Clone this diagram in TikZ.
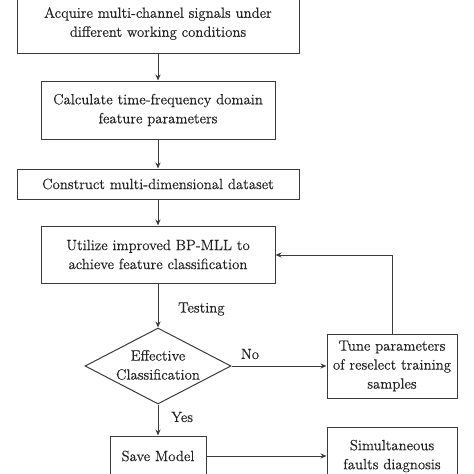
\documentclass[tikz,border=0pt]{standalone}
\usepackage{fontspec}
\setmainfont{lmroman12-regular.otf}[FakeBold=0.3]
\usetikzlibrary{shapes.geometric,arrows.meta}
\definecolor{ink}{HTML}{222222}
\definecolor{edge}{HTML}{3A3A3A}
\tikzset{
  box/.style={draw=edge, line width=1pt, rectangle, inner sep=0pt, align=center, text=ink,
    font=\fontsize{14.8}{19}\selectfont},
  dec/.style={draw=edge, line width=1pt, shape=diamond, inner sep=0pt, minimum width=146pt, minimum height=76pt},
  txt/.style={text=ink, align=center, inner sep=0pt, font=\fontsize{14.8}{19}\selectfont},
  conn/.style={draw=edge, line width=1pt, -{Stealth[length=6pt,width=5pt]}},
}
\begin{document}
\begin{tikzpicture}[x=1pt,y=1pt]
\useasboundingbox (0,0) rectangle (474,-474);
\clip (0,0) rectangle (474,-474);
\node[box, minimum width=282pt, minimum height=59pt] (b1) at (158,-23.5) {Acquire multi-channel signals under\\different working conditions};
\node[box, minimum width=234pt, minimum height=58pt] (b2) at (158,-110) {Calculate time-frequency domain\\feature parameters};
\node[box, minimum width=282pt, minimum height=30pt] (b3) at (158,-184) {Construct multi-dimensional dataset};
\node[box, minimum width=234pt, minimum height=57pt] (b4) at (158,-254.5) {Utilize improved BP-MLL to\\achieve feature classification};
\node[dec] (d) at (158,-366) {};
\node[txt] (dt) at (158,-365) {Effective\\Classification};
\node[box, minimum width=130pt, minimum height=64pt] (tune) at (392,-366) {Tune parameters\\of reselect training\\samples};
\node[box, minimum width=96pt, minimum height=40pt] (save) at (158,-456) {Save Model};
\node[box, minimum width=130pt, minimum height=58pt] (sim) at (392,-456) {Simultaneous\\faults diagnosis};
\node[txt, anchor=west] (lt) at (178,-309) {Testing};
\node[txt] (ln) at (250,-354) {No};
\node[txt, anchor=west] (ly) at (171,-417) {Yes};
\draw[conn] (b1) -- (b2);
\draw[conn] (b2) -- (b3);
\draw[conn] (b3) -- (b4);
\draw[conn] (b4) -- (d.north);
\draw[conn] (d.east) -- (tune);
\draw[conn] (tune.north) |- (b4.east |- 0,-255);
\draw[conn] (d.south) -- (save);
\draw[conn] (save) -- (sim);
\end{tikzpicture}
\end{document}
